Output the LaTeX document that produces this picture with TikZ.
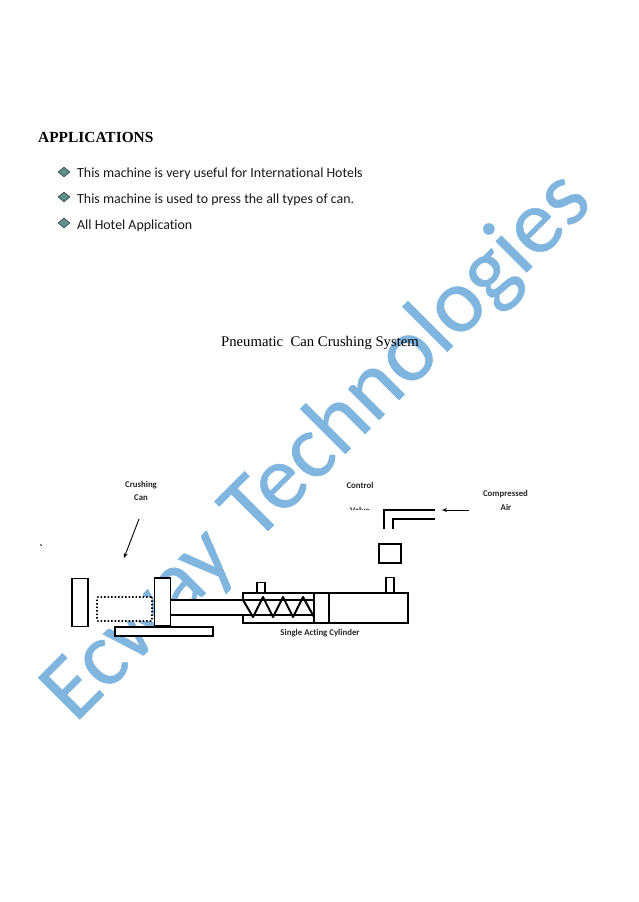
\documentclass[tikz,border=0pt]{standalone}
\usepackage{fontspec}
\setmainfont[Ligatures=NoCommon]{Carlito}
\newfontfamily\serifface{Liberation Serif}
\newfontfamily\wmface[FakeBold=0.5]{Carlito}
\newfontfamily\tickface{Carlito}
\usetikzlibrary{arrows.meta,shapes.geometric}
\definecolor{wm}{HTML}{7FB5DE}
\definecolor{bul}{HTML}{5F8F8F}
\tikzset{
  part/.style={draw=black,line width=1.5pt,fill=white},
  lbl/.style={font=\fontsize{8.8}{10}\selectfont\bfseries,text=black!85,inner sep=0pt,anchor=center},
  itemtext/.style={font=\fontsize{13.9}{15}\selectfont,anchor=west,inner sep=0pt,text=black!90},
  bulletmark/.style={diamond,aspect=1.25,draw=black!80,line width=.5pt,fill=bul,minimum width=12pt,minimum height=10pt,inner sep=0pt},
  pipe/.style={draw=black,line width=1.4pt},
  pointer/.style={draw=black,line width=.9pt,-{Stealth[length=5pt,width=4pt]}}
}
\begin{document}
\begin{tikzpicture}[x=1pt,y=-1pt]
\useasboundingbox (0,0) rectangle (638,902);
\fill[white] (0,0) rectangle (638,902);
% watermark
\node[rotate=45,anchor=base west,inner sep=0pt,text=wm,font=\wmface\fontsize{91.500}{100}\selectfont] (mark) at (75,724) {Ecway\hspace{4pt} Technologies};
\node[anchor=west,inner sep=0pt,font=\serifface\bfseries\fontsize{15.4}{18}\selectfont] (head) at (38,137.500) {APPLICATIONS};
\node[bulletmark] (b1) at (64,172) {};
\node[bulletmark] (b2) at (64,197) {};
\node[bulletmark] (b3) at (64,223) {};
\node[itemtext] (t1) at (77,174) {This machine is very useful for International Hotels};
\node[itemtext] (t2) at (77,199.500) {This machine is used to press the all types of can.};
\node[itemtext] (t3) at (77,225.500) {All Hotel Application};
\node[inner sep=0pt,font=\serifface\fontsize{14.7}{18}\selectfont] (title) at (320,343) {Pneumatic\ \ Can Crushing System};
% labels
\node[lbl] (l1) at (141,485) {Crushing};
\node[lbl] (l2) at (141,498) {Can};
\node[lbl] (l3) at (360,485.500) {Control};
\begin{scope}
\clip (340,500) rectangle (380,509);
\node[lbl] (l4) at (360,510) {Valve};
\end{scope}
\node[lbl] (l5) at (505.500,494.500) {Compressed};
\node[lbl] (l6) at (506,507.500) {Air};
\node[lbl] (l7) at (320,633) {Single Acting Cylinder};
\node[inner sep=0pt,font=\tickface\fontsize{11}{12}\selectfont\bfseries] (tick) at (41,549) {`};
% machine
\node[part,minimum width=16pt,minimum height=48pt,inner sep=0pt] (jaw) at (80,602.500) {};
\node[part,minimum width=165pt,minimum height=30pt,inner sep=0pt] (cyl) at (325.500,608) {};
\coordinate (rodA) at (170,600);
\coordinate (rodB) at (314,615);
\draw[part] (rodA) rectangle (rodB);
\node[part,dotted,line width=1.7pt,rounded corners=1pt,minimum width=55pt,minimum height=24pt,inner sep=0pt] (can) at (124.500,609) {};
\node[part,minimum width=16pt,minimum height=48pt,inner sep=0pt] (ram) at (162.500,602) {};
\node[part,minimum width=98pt,minimum height=9pt,inner sep=0pt] (base) at (164,631.500) {};
\coordinate (pistA) at (314,593);
\coordinate (pistB) at (314,623);
\coordinate (pistC) at (329,593);
\coordinate (pistD) at (329,623);
\draw[part] (pistA) -- (pistB);
\draw[part] (pistC) -- (pistD);
\draw[draw=black,line width=2pt,line join=round] (243,600) -- (253,617) -- (263,597) -- (273,617) -- (283,597) -- (293,617) -- (303,597) -- (314,617);
\node[part,minimum width=8pt,minimum height=10pt,inner sep=0pt,anchor=south] (port1) at (261,593) {};
\node[part,minimum width=8pt,minimum height=15pt,inner sep=0pt,anchor=south] (port2) at (390,593) {};
\node[part,minimum width=22pt,minimum height=19pt,inner sep=0pt] (valve) at (390,553.500) {};
\coordinate (p1) at (384,529);
\coordinate (p2) at (435,510);
\coordinate (p3) at (393,529);
\coordinate (p4) at (435,519);
\draw[pipe] (p1) |- (p2);
\draw[pipe] (p3) |- (p4);
\coordinate (airS) at (469,510);
\coordinate (airE) at (442,510);
\draw[pointer] (airS) -- (airE);
\coordinate (canS) at (139,519);
\coordinate (canE) at (124,558);
\draw[pointer] (canS) -- (canE);
\end{tikzpicture}
\end{document}
